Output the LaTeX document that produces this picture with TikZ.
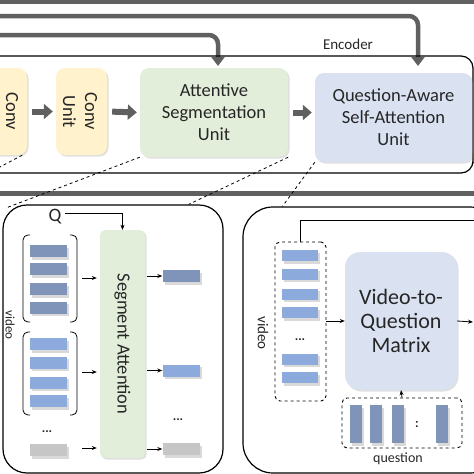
\documentclass[tikz,border=0pt]{standalone}
\usepackage{fontspec}
\setmainfont{Carlito}
\usetikzlibrary{arrows.meta,shadows}

\definecolor{convyellow}{HTML}{FFF2CC}
\definecolor{seggreen}{HTML}{E3EEDA}
\definecolor{attblue}{HTML}{DAE2F2}
\definecolor{bardark}{HTML}{7F94B8}
\definecolor{barlight}{HTML}{8CAADC}
\definecolor{bargray}{HTML}{C6C6C6}
\definecolor{pipegray}{HTML}{606060}
\definecolor{textgray}{HTML}{262626}

\begin{document}
\begin{tikzpicture}[x=1pt,y=-1pt,>={Stealth[length=5pt,width=4pt]},
    every node/.style={text=textgray},
    unitbox/.style={rounded corners=9pt,inner sep=0pt,
      drop shadow={shadow xshift=1.5pt,shadow yshift=-1.5pt,opacity=0.25}},
    unittext/.style={align=center,font=\fontsize{18.5}{22}\selectfont},
    panel/.style={draw,line width=1.2pt,rounded corners=24pt,inner sep=0pt},
    dashbox/.style={draw,dashed,line width=0.9pt,rounded corners=5pt,inner sep=0pt},
    bar/.style={inner sep=0pt,minimum width=37pt,minimum height=12pt,
      drop shadow={shadow xshift=2pt,shadow yshift=-2.5pt,opacity=0.3}},
    qbar/.style={fill=bardark,inner sep=0pt,minimum width=12pt,minimum height=38pt,
      drop shadow={shadow xshift=2pt,shadow yshift=-2.5pt,opacity=0.3}},
    dots/.style={font=\fontsize{13}{15}\selectfont\bfseries},
    pipe/.style={draw=pipegray,line width=4.5pt,rounded corners=9pt,
      -{Triangle[length=9pt,width=13pt]}},
    blockarrow/.style={draw=pipegray,line width=6pt,
      -{Triangle[length=9pt,width=15pt]},shorten <=5pt,shorten >=3pt},
    zoomline/.style={dashed,line width=0.8pt}]

  \useasboundingbox (0,0) rectangle (474,474);

  % thick gray pipes on top
  \coordinate (topL) at (-5,1);
  \coordinate (topR) at (480,1);
  \coordinate (skipA) at (-5,16);
  \coordinate (skipAend) at (418,66);
  \coordinate (skipB) at (-5,35);
  \coordinate (skipBend) at (218,66);
  \draw[draw=pipegray,line width=5pt] (topL) -- (topR);
  \draw[pipe] (skipA) -| (skipAend);
  \draw[pipe] (skipB) -| (skipBend);

  % encoder
  \node[draw,line width=1.2pt,rounded corners=12pt,minimum width=493pt,
        minimum height=117pt,inner sep=0pt] (encoder) at (226.5,114.5) {};
  \node[font=\fontsize{15}{18}\selectfont] (enclabel) at (348,44) {Encoder};

  \node[unitbox,fill=convyellow,minimum width=47pt,minimum height=87pt] (conv) at (3.5,111.5) {};
  \node[unittext,rotate=-90] (convtext) at (12,111.5) {Conv};
  \node[unitbox,fill=convyellow,minimum width=51pt,minimum height=87pt] (convunit) at (81.5,111.5) {};
  \node[unittext,rotate=-90] (convunittext) at (80,111.5) {Conv\\Unit};
  \node[unitbox,fill=seggreen,minimum width=148pt,minimum height=89pt] (asu) at (214,112.5) {};
  \node[unittext] (asutext) at (214,112.5) {Attentive\\Segmentation\\Unit};
  \node[unitbox,fill=attblue,minimum width=157pt,minimum height=89pt] (qsau) at (393.5,117.5) {};
  \node[unittext] (qsautext) at (393.5,117.5) {Question-Aware\\Self-Attention\\Unit};

  \draw[blockarrow] (conv.east) -- (convunit.west);
  \draw[blockarrow] (convunit.east) -- (asu.west);
  \draw[blockarrow] (asu.east) -- (qsau.west |- asu.east);

  \coordinate (bottomL) at (-5,193);
  \coordinate (bottomR) at (480,193);
  \draw[draw=pipegray,line width=5pt] (bottomL) -- (bottomR);

  % the two detail panels
  \node[panel,minimum width=220pt,minimum height=268pt] (lpanel) at (113,339) {};
  \node[panel,rounded corners=30pt,minimum width=257pt,minimum height=266pt] (rpanel) at (371.5,340) {};

  % zoom lines
  \coordinate (convzoom) at (-2,168);
  \coordinate (qsauzoom) at (480,166);
  \draw[zoomline] ([xshift=-5pt]conv.south east) -- (convzoom);
  \draw[zoomline] (asu.south west) -- ([xshift=5pt,yshift=-3pt]lpanel.north west);
  \draw[zoomline] (asu.south east) -- ([xshift=-35pt]lpanel.north east);
  \draw[zoomline] (qsau.south west) -- ([xshift=40pt]rpanel.north west);
  \draw[zoomline] (qsau.south east) -- (qsauzoom);

  % segment attention panel
  \node[unitbox,fill=seggreen,rounded corners=5pt,minimum width=45pt,minimum height=228pt] (segatt) at (122.5,344) {};
  \node[unittext,rotate=-90] (segatttext) at (122.5,344) {Segment Attention};
  \node[font=\fontsize{19}{22}\selectfont] (q) at (55,217) {Q};
  \draw[->] ([yshift=4pt]q.east) -| (segatt.north);
  \node[rotate=-90,font=\fontsize{13}{15}\selectfont] (lvideo) at (10,325) {video};

  \draw[rounded corners=5pt,line width=0.8pt] (30,235) -- (23,235) -- (23,322) -- (30,322);
  \draw[rounded corners=5pt,line width=0.8pt] (70,235) -- (77,235) -- (77,322) -- (70,322);
  \draw[rounded corners=5pt,line width=0.8pt] (30,332) -- (23,332) -- (23,415) -- (30,415);
  \draw[rounded corners=5pt,line width=0.8pt] (70,332) -- (77,332) -- (77,415) -- (70,415);
  \foreach \i/\y in {1/251,2/269,3/289,4/307.5}
    \node[bar,fill=bardark] (sega\i) at (48.5,\y) {};
  \foreach \i/\y in {1/344,2/362.5,3/382.5,4/401}
    \node[bar,fill=barlight] (segb\i) at (48.5,\y) {};
  \node[dots] (segdots) at (47,432) {...};
  \node[bar,fill=bargray] (segc) at (48.5,450) {};

  \coordinate (grpA) at (82,278);
  \coordinate (grpB) at (82,372);
  \coordinate (grpC) at (82,448);
  \foreach \g in {grpA,grpB,grpC}
    \draw[->,line width=0.8pt] (\g) -- ([xshift=-3pt]segatt.west |- \g);

  \node[bar,fill=bardark] (outa) at (181,276) {};
  \node[bar,fill=barlight] (outb) at (181,370.5) {};
  \node[dots] (outdots) at (178,420) {...};
  \node[bar,fill=bargray] (outc) at (181,449) {};
  \foreach \o in {outa,outb,outc}
    \draw[->,line width=0.8pt] ([xshift=2pt]segatt.east |- \o) -- (\o.west);

  % video-to-question panel
  \node[dashbox,minimum width=51pt,minimum height=159pt] (videobox) at (300.5,321.5) {};
  \foreach \i/\y in {1/255.5,2/274,3/294,4/312.5,5/359,6/377.5}
    \node[bar,fill=barlight,minimum width=36pt,minimum height=11pt] (vbar\i) at (300,\y) {};
  \node[dots] (vdots) at (300,340) {...};
  \node[rotate=-90,font=\fontsize{15}{18}\selectfont] (rvideo) at (263,333) {video};
  \coordinate (vqout) at (480,220);
  \draw[line width=0.9pt] (videobox.north) |- (vqout);

  \node[unitbox,fill=attblue,rounded corners=15pt,minimum width=112pt,minimum height=138pt] (v2q) at (401,321) {};
  \node[align=center,font=\fontsize{22}{24}\selectfont] (v2qtext) at (401,321) {Video-to-\\Question\\Matrix};
  \draw[->,line width=0.8pt] (videobox.east |- v2q) -- (v2q.west);
  \coordinate (v2qout) at (473,322);
  \draw[->,line width=0.8pt] (v2q.east) -- (v2qout);

  \node[dashbox,minimum width=120pt,minimum height=50pt] (qbox) at (402,423) {};
  \foreach \i/\x in {1/356,2/376,3/397.5,4/441.5}
    \node[qbar] (qbar\i) at (\x,424) {};
  \node[dots] (qdots) at (417,424) {:};
  \node[font=\fontsize{14}{16}\selectfont] (qlabel) at (398,459) {question};
  \draw[->,line width=0.8pt] (qbox.north) -- (v2q.south);
\end{tikzpicture}
\end{document}
